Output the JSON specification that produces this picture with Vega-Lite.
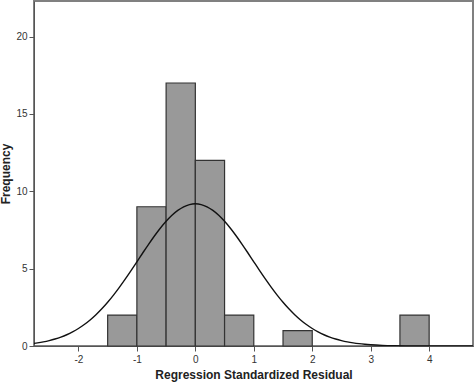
{
  "$schema": "https://vega.github.io/schema/vega-lite/v6.json",
  "autosize": "none",
  "width": 439,
  "height": 345,
  "padding": {"left": 34, "top": 1, "right": 1, "bottom": 37},
  "background": "white",
  "config": {
    "font": "Liberation Sans",
    "view": {"stroke": "#808080", "strokeWidth": 2},
    "axis": {"grid": false, "labelFont": "Liberation Sans", "labelFontSize": 10, "labelColor": "#333333", "domainColor": "#555555", "tickColor": "#555555", "titleFont": "Liberation Sans", "titleFontWeight": "bold", "titleColor": "#222222", "titleFontSize": 12}
  },
  "datasets": {
    "bars": [
      {"x": -1.5, "x2": -1.0, "count": 2},
      {"x": -1.0, "x2": -0.5, "count": 9},
      {"x": -0.5, "x2": 0.0, "count": 17},
      {"x": 0.0, "x2": 0.5, "count": 12},
      {"x": 0.5, "x2": 1.0, "count": 2},
      {"x": 1.5, "x2": 2.0, "count": 1},
      {"x": 3.5, "x2": 4.0, "count": 2}
    ],
    "curve": [
      {"x": -2.8, "y": 0.151}, {"x": -2.7, "y": 0.202}, {"x": -2.6, "y": 0.266}, {"x": -2.5, "y": 0.348},
      {"x": -2.4, "y": 0.45}, {"x": -2.3, "y": 0.575}, {"x": -2.2, "y": 0.728}, {"x": -2.1, "y": 0.912},
      {"x": -2.0, "y": 1.131}, {"x": -1.9, "y": 1.387}, {"x": -1.8, "y": 1.684}, {"x": -1.7, "y": 2.022},
      {"x": -1.6, "y": 2.404}, {"x": -1.5, "y": 2.828}, {"x": -1.4, "y": 3.292}, {"x": -1.3, "y": 3.792},
      {"x": -1.2, "y": 4.323}, {"x": -1.1, "y": 4.876}, {"x": -1.0, "y": 5.443}, {"x": -0.9, "y": 6.012},
      {"x": -0.8, "y": 6.572}, {"x": -0.7, "y": 7.11}, {"x": -0.6, "y": 7.611}, {"x": -0.5, "y": 8.062},
      {"x": -0.4, "y": 8.451}, {"x": -0.3, "y": 8.767}, {"x": -0.2, "y": 8.999}, {"x": -0.1, "y": 9.142},
      {"x": 0.0, "y": 9.19}, {"x": 0.1, "y": 9.142}, {"x": 0.2, "y": 8.999}, {"x": 0.3, "y": 8.767},
      {"x": 0.4, "y": 8.451}, {"x": 0.5, "y": 8.062}, {"x": 0.6, "y": 7.611}, {"x": 0.7, "y": 7.11},
      {"x": 0.8, "y": 6.572}, {"x": 0.9, "y": 6.012}, {"x": 1.0, "y": 5.443}, {"x": 1.1, "y": 4.876},
      {"x": 1.2, "y": 4.323}, {"x": 1.3, "y": 3.792}, {"x": 1.4, "y": 3.292}, {"x": 1.5, "y": 2.828},
      {"x": 1.6, "y": 2.404}, {"x": 1.7, "y": 2.022}, {"x": 1.8, "y": 1.684}, {"x": 1.9, "y": 1.387},
      {"x": 2.0, "y": 1.131}, {"x": 2.1, "y": 0.912}, {"x": 2.2, "y": 0.728}, {"x": 2.3, "y": 0.575},
      {"x": 2.4, "y": 0.45}, {"x": 2.5, "y": 0.348}, {"x": 2.6, "y": 0.266}, {"x": 2.7, "y": 0.202},
      {"x": 2.8, "y": 0.151}, {"x": 2.9, "y": 0.112}, {"x": 3.0, "y": 0.082}, {"x": 3.2, "y": 0.043},
      {"x": 3.4, "y": 0.022}, {"x": 3.6, "y": 0.01}, {"x": 3.8, "y": 0.005}, {"x": 4.0, "y": 0.002},
      {"x": 4.4, "y": 0.0}, {"x": 4.75, "y": 0.0}
    ]
  },
  "layer": [
    {
      "data": {"name": "bars"},
      "mark": {"type": "rect", "fill": "#999999", "stroke": "#333333", "strokeWidth": 1.2},
      "encoding": {
        "x": {"field": "x", "type": "quantitative", "scale": {"domain": [-2.76, 4.75], "nice": false, "zero": false},
              "axis": {"values": [-2, -1, 0, 1, 2, 3, 4], "labelExpr": "datum.value + ''", "title": "Regression Standardized Residual", "titlePadding": 5, "tickSize": 5, "labelPadding": 3}},
        "x2": {"field": "x2"},
        "y": {"field": "count", "type": "quantitative", "scale": {"domain": [0, 22.3], "nice": false},
              "axis": {"values": [0, 5, 10, 15, 20], "format": "d", "title": "Frequency", "titlePadding": 3, "tickSize": 5, "labelPadding": 2}},
        "y2": {"datum": 0}
      }
    },
    {
      "data": {"name": "curve"},
      "mark": {"type": "line", "stroke": "#111111", "strokeWidth": 1.4, "interpolate": "monotone", "clip": true},
      "encoding": {
        "x": {"field": "x", "type": "quantitative"},
        "y": {"field": "y", "type": "quantitative"}
      }
    }
  ]
}
